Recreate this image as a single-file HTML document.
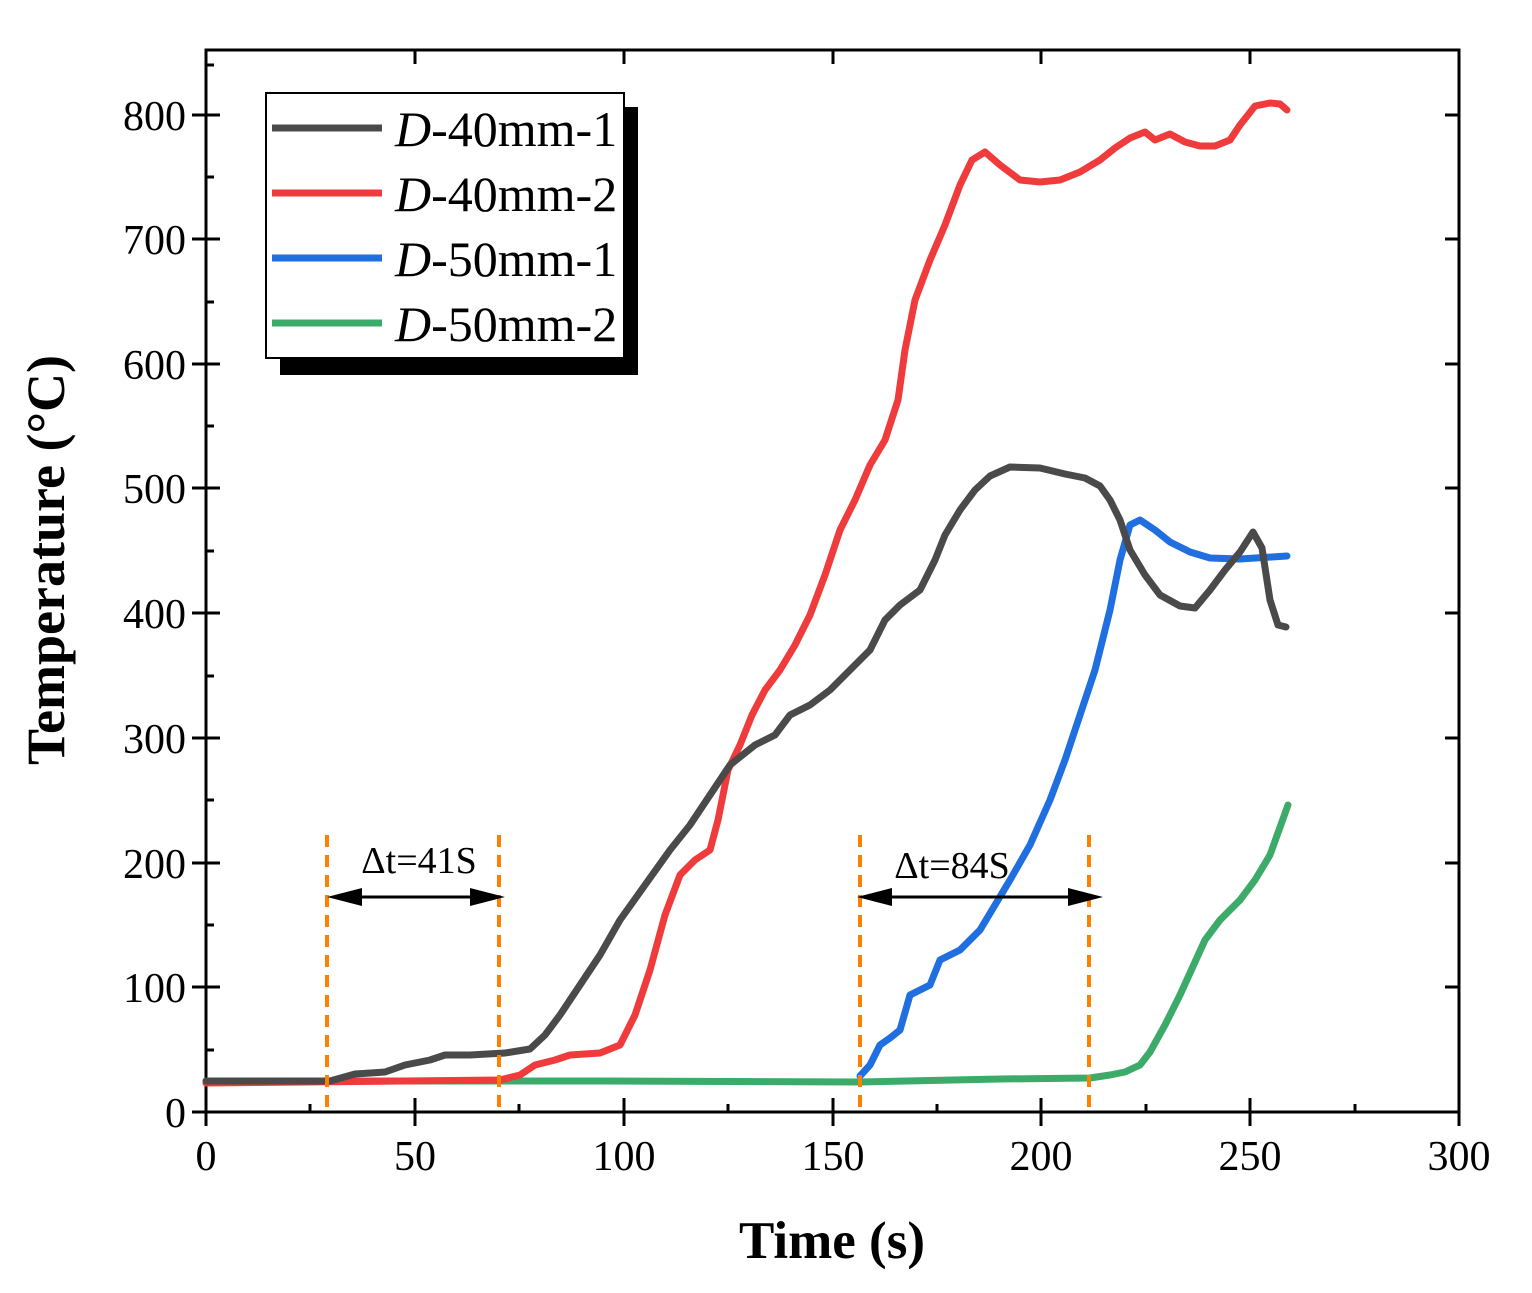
<!DOCTYPE html>
<html><head><meta charset="utf-8"><style>
html,body{margin:0;padding:0;background:#fff}
svg{display:block}
text{font-family:"Liberation Serif",serif;fill:#000}
</style></head><body>
<svg width="1532" height="1293" viewBox="0 0 1532 1293" xmlns="http://www.w3.org/2000/svg">
<rect x="206" y="50" width="1253" height="1062" fill="none" stroke="#000" stroke-width="3"/>
<g stroke="#000" stroke-width="3">
<path d="M192,1112H220M192,987H220M192,863H220M192,738H220M192,613H220M192,488H220M192,364H220M192,239H220M192,115H220"/>
<path d="M1445,987H1459M1445,863H1459M1445,738H1459M1445,613H1459M1445,488H1459M1445,364H1459M1445,239H1459M1445,115H1459"/>
<path d="M206,1050H214M206,925H214M206,800H214M206,676H214M206,551H214M206,426H214M206,302H214M206,177H214M206,65H214"/>
<path d="M206,1098V1126M415,1098V1126M624,1098V1126M833,1098V1126M1041,1098V1126M1250,1098V1126M1459,1098V1126"/>
<path d="M415,50V64M624,50V64M833,50V64M1041,50V64M1250,50V64"/>
<path d="M310,1104V1112M519,1104V1112M728,1104V1112M937,1104V1112M1146,1104V1112M1355,1104V1112"/>
</g>
<g font-size="42" text-anchor="end">
<text x="186" y="1127">0</text><text x="186" y="1002">100</text><text x="186" y="878">200</text>
<text x="186" y="753">300</text><text x="186" y="628">400</text><text x="186" y="503">500</text>
<text x="186" y="379">600</text><text x="186" y="254">700</text><text x="186" y="130">800</text>
</g>
<g font-size="42" text-anchor="middle">
<text x="206" y="1170">0</text><text x="415" y="1170">50</text><text x="624" y="1170">100</text>
<text x="833" y="1170">150</text><text x="1041" y="1170">200</text><text x="1250" y="1170">250</text><text x="1459" y="1170">300</text>
</g>
<text x="832" y="1258" font-size="53" font-weight="bold" text-anchor="middle">Time (s)</text>
<text transform="translate(64,560) rotate(-90)" font-size="54" font-weight="bold" text-anchor="middle">Temperature (°C)</text>

<g fill="none" stroke-width="7" stroke-linejoin="round" stroke-linecap="round">
<polyline stroke="#3cab6a" points="206,1081 600,1081 860,1082 1000,1079 1090,1078 1110,1075 1125,1072 1140,1065 1150,1052 1165,1025 1180,995 1195,962 1205,940 1220,920 1240,900 1255,880 1270,855 1288,805"/>
<polyline stroke="#1f6fe0" points="860,1076 870,1065 880,1045 890,1038 900,1030 910,995 930,985 940,960 960,950 980,930 995,905 1010,880 1030,845 1050,800 1065,760 1080,715 1095,670 1110,610 1120,560 1130,525 1140,520 1155,530 1170,542 1190,552 1210,558 1240,559 1287,556"/>
<polyline stroke="#ef3b3b" points="206,1083 500,1080 520,1075 535,1065 555,1060 570,1055 600,1053 620,1045 635,1015 650,970 665,915 680,875 695,860 710,850 718,820 728,770 740,745 752,715 765,690 780,670 795,645 810,615 825,575 840,530 855,500 870,465 885,440 898,400 905,350 915,300 930,260 945,225 960,185 972,160 985,152 1000,165 1020,180 1040,182 1060,180 1080,172 1100,160 1115,148 1130,138 1145,132 1155,140 1170,134 1185,142 1200,146 1215,146 1230,140 1240,125 1255,106 1270,103 1280,104 1287,110"/>
<polyline stroke="#4a4a4a" points="206,1081 330,1081 355,1074 385,1072 405,1065 430,1060 445,1055 470,1055 505,1053 530,1049 545,1035 560,1015 580,985 600,955 620,920 645,885 670,850 690,825 710,795 730,765 755,745 775,735 790,715 810,705 830,690 850,670 870,650 885,620 900,605 920,590 935,560 945,535 960,510 975,490 990,476 1010,467 1040,468 1065,474 1085,478 1100,486 1110,500 1120,520 1130,550 1145,575 1160,595 1180,606 1195,608 1210,590 1225,570 1240,552 1253,532 1262,548 1270,600 1278,625 1286,627"/>
</g>
<g stroke="#ff8000" stroke-width="4" stroke-dasharray="12,8">
<path d="M327,835V1112M499,835V1112M860,835V1112M1089,835V1112"/>
</g>
<g stroke="#000" stroke-width="3">
<path d="M335,897H496M866,897H1096"/>
</g>
<g fill="#000">
<polygon points="327,897 362,888 362,906"/>
<polygon points="505,897 470,888 470,906"/>
<polygon points="857,897 892,888 892,906"/>
<polygon points="1103,897 1068,888 1068,906"/>
</g>
<text x="419" y="873" font-size="38" text-anchor="middle">Δt=41S</text>
<text x="952" y="878" font-size="38" text-anchor="middle">Δt=84S</text>

<rect x="280" y="107" width="358" height="268" fill="#000"/>
<rect x="266" y="93" width="358" height="265" fill="#fff" stroke="#000" stroke-width="2"/>
<g stroke-width="7">
<path d="M272,128H382" stroke="#4a4a4a"/>
<path d="M272,193H382" stroke="#ef3b3b"/>
<path d="M272,258H382" stroke="#1f6fe0"/>
<path d="M272,323H382" stroke="#3cab6a"/>
</g>
<g font-size="50">
<text x="395" y="146"><tspan font-style="italic">D</tspan>-40mm-1</text>
<text x="395" y="211"><tspan font-style="italic">D</tspan>-40mm-2</text>
<text x="395" y="276"><tspan font-style="italic">D</tspan>-50mm-1</text>
<text x="395" y="341"><tspan font-style="italic">D</tspan>-50mm-2</text>
</g>
</svg>
</body></html>
